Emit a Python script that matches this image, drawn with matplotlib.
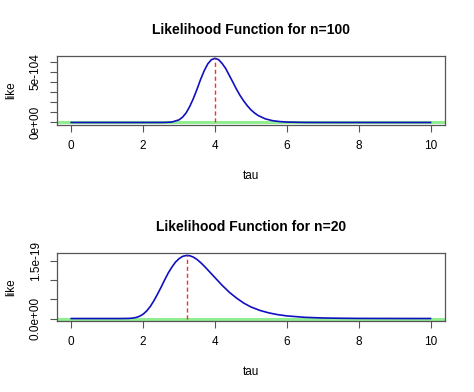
import numpy as np
import matplotlib
matplotlib.use("Agg")
import matplotlib.pyplot as plt

plt.rcParams['font.family'] = ['Liberation Sans', 'DejaVu Sans']

# n = 100 panel, like values in units of 1e-104
tau_100 = [0, 1, 2, 2.4, 2.6, 2.8, 3.0, 3.1, 3.2, 3.3, 3.4, 3.5, 3.6, 3.7, 3.8, 3.9,
           4.0, 4.1, 4.2, 4.3, 4.4, 4.5, 4.6, 4.7, 4.8, 4.9, 5.0, 5.1, 5.2, 5.4,
           5.6, 5.8, 6.0, 6.5, 7, 8, 9, 10]
like_100 = [0, 0, 0, 0.0005, 0.004, 0.04, 0.26, 0.53, 0.96, 1.59, 2.37, 3.27, 4.24,
            5.09, 5.77, 6.18, 6.32, 6.19, 5.81, 5.31, 4.63, 3.96, 3.27, 2.65, 2.12,
            1.65, 1.25, 0.94, 0.69, 0.36, 0.18, 0.09, 0.04, 0.005, 0.001, 0, 0, 0]
scale_100 = 1e-104
mle_100 = 4.0

# n = 20 panel, like values in units of 1e-19
tau_20 = [0, 1, 1.4, 1.6, 1.7, 1.8, 1.9, 2.0, 2.1, 2.2, 2.3, 2.4, 2.5, 2.6, 2.7, 2.8,
          2.9, 3.0, 3.1, 3.22, 3.3, 3.4, 3.5, 3.6, 3.7, 3.8, 3.9, 4.0, 4.2, 4.4, 4.6,
          4.8, 5.0, 5.25, 5.5, 5.75, 6.0, 6.5, 7.0, 7.5, 8.0, 9, 10]
like_20 = [0, 0, 0.0001, 0.003, 0.010, 0.026, 0.058, 0.112, 0.197, 0.313, 0.46, 0.63,
           0.81, 1.00, 1.18, 1.33, 1.46, 1.55, 1.61, 1.636, 1.626, 1.59, 1.53, 1.45,
           1.36, 1.26, 1.16, 1.06, 0.86, 0.68, 0.53, 0.40, 0.30, 0.21, 0.146, 0.10,
           0.068, 0.031, 0.014, 0.007, 0.003, 0.001, 0.0004]
scale_20 = 1e-19
mle_20 = 3.22

panels = [
    (tau_100, like_100, scale_100, mle_100, "Likelihood Function for n=100",
     [0, 1, 2, 3, 4, 5, 6], {0: "0e+00", 5: "5e-104"}),
    (tau_20, like_20, scale_20, mle_20, "Likelihood Function for n=20",
     [0, 0.5, 1.0, 1.5], {0: "0.0e+00", 1.5: "1.5e-19"}),
]

fig = plt.figure(figsize=(4.74, 3.92), dpi=100)
rects = [[0.120, 0.681, 0.8186, 0.1768], [0.120, 0.181, 0.8186, 0.174]]
box_col = "#555555"

for rect, (tau, like, sc, mle, title, yt, ylab) in zip(rects, panels):
    ax = fig.add_axes(rect)
    tau = np.array(tau)
    like = np.array(like) * sc
    ax.axhline(0, color="#90ee90", lw=2.2, zorder=1)
    ax.plot(tau, like, color="#1010c0", lw=1.2, zorder=2)
    peak = np.interp(mle, tau, like)
    ax.vlines(mle, 0, peak, colors="#ff2a2a", linestyles=(0, (3, 2)), lw=1.0, zorder=3)

    ax.set_xlim(-0.4, 10.4)
    top = max(like)
    ax.set_ylim(-0.04 * top, 1.04 * top)
    ax.set_xticks([0, 2, 4, 6, 8, 10])
    ax.set_xticklabels(["0", "2", "4", "6", "8", "10"], fontsize=8.5)
    ax.set_yticks([v * sc for v in yt])
    ax.set_yticklabels([ylab.get(v, "") for v in yt], fontsize=8.5,
                       rotation=90, va="center")
    ax.tick_params(length=4.8, width=0.8, color=box_col, pad=6)
    for s in ax.spines.values():
        s.set_color(box_col)
        s.set_linewidth(0.9)
    ax.set_title(title, fontsize=10, fontweight="bold", pad=15.5)
    ax.set_xlabel("tau", fontsize=8.5, labelpad=13)
    ax.set_ylabel("like", fontsize=8.5, labelpad=9)

plt.savefig("out.png", dpi=100)
